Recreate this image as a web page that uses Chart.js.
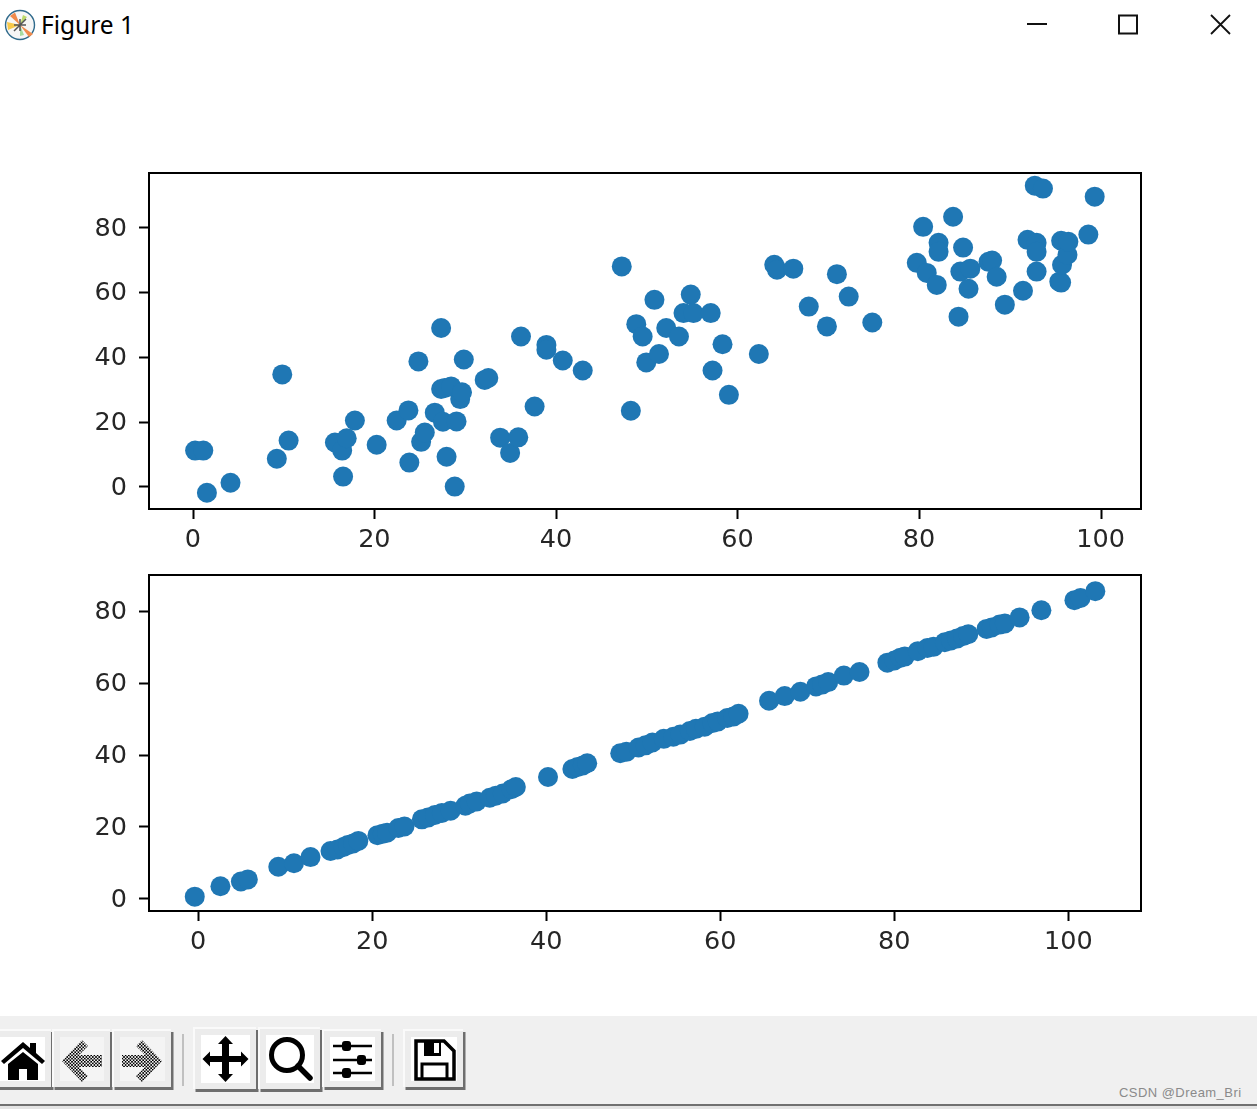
<!DOCTYPE html>
<html>
<head>
<meta charset="utf-8">
<title>Figure 1</title>
<script src="https://cdn.jsdelivr.net/npm/chart.js@4"></script>
<style>
html,body{margin:0;padding:0;background:#fff;width:1257px;height:1109px;overflow:hidden;position:relative}
canvas.plot{position:absolute;display:block}
#title{position:absolute;left:41px;top:7px;font:24.5px "Noto Sans",sans-serif;color:#000;line-height:36px}
#bar{position:absolute;left:0;top:1016px;width:1257px;height:89px;background:#f0f0f0}
#line{position:absolute;left:0;top:1104px;width:1257px;height:2px;background:#707070}
#under{position:absolute;left:0;top:1106px;width:1257px;height:3px;background:#e4e4e4}
.btn{position:absolute;box-sizing:border-box;background:#fff;border:6px solid #ececec;box-shadow:1.5px 2px 0 1px #6e6e6e,-1px -1px 0 1px #fafafa}
.btn svg{position:absolute;left:0;top:0;width:100%;height:100%;overflow:visible}
.sep{position:absolute;top:1034px;height:52px;width:2px;background:#c0c0c0}
#wm{position:absolute;left:1119px;top:1085px;font:13px "Liberation Sans",sans-serif;color:#8a8a8a;letter-spacing:.45px}
</style>
</head>
<body>
<svg style="position:absolute;left:3px;top:8px" width="34" height="34" viewBox="0 0 34 34">
  <circle cx="17" cy="17" r="14.5" fill="#f6f6f6" stroke="#2f6a8c" stroke-width="1.4"/>
  <path d="M17 17 L7 8 L12 4.5 Z" fill="#f08a4b"/>
  <path d="M17 17 L4 14 L5 22 Z" fill="#f7c94b"/>
  <path d="M17 17 L26 29 L30 26 Z" fill="#f08a4b"/>
  <path d="M17 17 L20 7 L24 9 Z" fill="#bcd96a"/>
  <path d="M17 17 L17 28 L21 27 Z" fill="#a6dba0"/>
  <path d="M11 23 L23 11 M17 11 L17 23 M11 17 L23 17" stroke="#555" stroke-width="1.5"/>
</svg>
<div id="title">Figure 1</div>
<svg style="position:absolute;left:1020px;top:8px" width="220" height="34" viewBox="0 0 220 34">
  <path d="M7 16 H27" stroke="#111" stroke-width="2"/>
  <rect x="99" y="7.5" width="18" height="18" fill="none" stroke="#111" stroke-width="2"/>
  <path d="M191 7 L210 26 M210 7 L191 26" stroke="#111" stroke-width="1.8"/>
</svg>

<canvas id="top" class="plot" width="1140" height="410" style="left:40px;top:160px"></canvas>
<canvas id="bottom" class="plot" width="1140" height="410" style="left:40px;top:562px"></canvas>

<div id="bar"></div><div id="line"></div><div id="under"></div>

<div class="btn" style="left:-6px;top:1031px;width:57px;height:56px"><svg viewBox="0 0 45 44">
  <path d="M1 24 L23 5 L30 11 V6 H36 V16 L45 24 L42 27 L23 11 L4 27 Z" fill="#000"/>
  <path d="M8 27 L23 15 L38 27 V43 H27 V32 H19 V43 H8 Z" fill="#000"/></svg></div>
<div class="btn" style="left:54px;top:1031px;width:56px;height:56px;background:#f4f4f4"><svg viewBox="0 0 44 44">
  <defs><pattern id="chk" width="3.2" height="3.2" patternUnits="userSpaceOnUse"><rect width="1.6" height="1.6" fill="#000"/><rect x="1.6" y="1.6" width="1.6" height="1.6" fill="#000"/></pattern></defs>
  <path d="M2 24 L22 3 L28 9 L19 18 H42 V30 H19 L28 39 L22 45 Z" fill="url(#chk)"/></svg></div>
<div class="btn" style="left:114px;top:1031px;width:57px;height:56px;background:#f4f4f4"><svg viewBox="0 0 45 44">
  <path d="M42 24 L22 3 L16 9 L25 18 H2 V30 H25 L16 39 L22 45 Z" fill="url(#chk)"/></svg></div>
<div class="sep" style="left:182px"></div>
<div class="btn" style="left:195px;top:1029px;width:61px;height:60px"><svg viewBox="0 0 49 48">
  <path d="M24.5 1 L32 9 H28 V21 H40 V16.5 L47.5 24 L40 31.5 V27 H28 V39 H32 L24.5 47 L17 39 H21 V27 H9 V31.5 L1.5 24 L9 16.5 V21 H21 V9 H17 Z" fill="#000"/></svg></div>
<div class="btn" style="left:260px;top:1029px;width:60px;height:60px"><svg viewBox="0 0 48 48">
  <circle cx="21" cy="20" r="15.5" fill="none" stroke="#000" stroke-width="5"/>
  <path d="M32 31 L44 43" stroke="#000" stroke-width="5.5" stroke-linecap="round"/></svg></div>
<div class="btn" style="left:324px;top:1031px;width:57px;height:56px"><svg viewBox="0 0 45 44">
  <path d="M3 9 H42 M3 23 H42 M3 36 H42" stroke="#000" stroke-width="2.5"/>
  <rect x="12" y="4" width="9" height="10" rx="3" fill="#000"/>
  <rect x="27" y="18" width="9" height="10" rx="3" fill="#000"/>
  <rect x="12" y="31" width="9" height="10" rx="3" fill="#000"/></svg></div>
<div class="sep" style="left:392px"></div>
<div class="btn" style="left:405px;top:1031px;width:58px;height:56px"><svg viewBox="0 0 46 44">
  <path d="M5 4 H33 L43 14 V42 H5 Z" fill="none" stroke="#000" stroke-width="3.5"/>
  <path d="M13 4 H30 V19 H13 Z" fill="#000"/><rect x="23" y="6" width="5" height="10" fill="#fff"/>
  <path d="M11 42 V27 H36 V42" fill="none" stroke="#000" stroke-width="3"/></svg></div>
<div id="wm">CSDN @Dream_Bri</div>

<script>
// Upper panel: scattered values
const topX = [0.2,1.1,1.5,4.1,9.2,9.8,10.5,15.6,16.4,16.9,16.5,17.8,20.2,22.4,23.7,23.8,24.8,25.1,25.5,26.6,27.3,27.3,27.7,27.5,27.9,28.4,28.8,29,29.4,29.6,29.8,32.1,32.5,33.8,34.9,35.8,36.1,37.6,38.9,38.9,40.7,42.9,47.2,48.2,48.8,49.5,49.9,50.8,51.3,52.1,53.5,54,54.8,55.1,57,57.2,58.3,59,62.3,64,64.3,66.1,67.8,69.8,70.9,72.2,74.8,79.7,80.4,80.8,81.9,82.1,82.1,83.7,84.3,84.5,84.8,85.4,85.6,87.6,88,88.5,89.4,91.4,91.9,92.7,92.9,92.9,92.9,93.6,95.4,95.6,95.7,95.6,96.3,96.4,98.6,99.3];
const topY = [11.2,11.2,-1.8,1.3,8.7,34.7,14.3,13.7,11.2,15,3.2,20.5,13,20.5,23.6,7.5,38.7,13.9,16.8,22.9,49,30.2,30.5,20.1,9.3,31,0.1,20.2,27.1,29.2,39.3,33,33.6,15.2,10.5,15.3,46.4,24.8,43.8,42.3,39,35.9,68,23.5,50.2,46.4,38.4,57.7,41,49,46.4,53.6,59.3,53.6,53.6,35.9,44,28.4,41,68.5,67,67.3,55.6,49.5,65.6,58.7,50.7,69.1,80.2,66,62.3,75.3,72.5,83.3,52.5,66.4,73.8,61.1,67.3,69.4,69.8,64.8,56.2,60.5,76.2,92.9,66.4,75.3,72.5,92,63.3,63,68.5,75.9,71.6,75.6,77.8,89.5];
// Lower panel: values along a straight run
const bottomX = [-0.45,2.5,4.85,5.65,9.15,10.95,12.85,15.15,15.95,16.65,17.15,17.75,18.35,20.55,21.15,21.65,22.95,23.65,25.65,26.35,27.15,27.95,28.95,30.65,31.15,31.95,33.45,34.15,34.95,35.95,36.45,40.15,42.95,43.55,44.15,44.65,48.45,49.15,50.55,51.35,52.15,53.45,54.55,55.35,56.45,57.15,58.15,59.05,59.65,60.75,61.45,62.05,65.55,67.35,69.15,70.95,71.65,72.35,74.15,75.95,79.15,79.95,80.65,81.15,82.65,83.75,84.45,85.75,86.45,87.15,87.85,88.45,90.55,91.15,92.05,92.65,94.35,96.85,100.65,101.35,103.05];
const bottomY = [0.6,3.5,4.8,5.4,8.9,9.9,11.6,13.3,13.7,14.4,15,15.4,16.1,17.7,18.1,18.4,19.7,20.1,22.1,22.6,23.3,23.9,24.5,25.9,26.5,27.1,28.1,28.7,29.3,30.5,31.1,33.9,36.1,36.7,37.1,37.7,40.5,40.9,42.1,42.7,43.5,44.5,45.1,45.7,46.7,47.3,47.9,48.9,49.3,50.3,50.7,51.5,55.1,56.4,57.6,59.1,59.6,60.3,62.1,63.1,65.7,66.3,67.1,67.4,68.9,69.8,70.1,71.4,71.9,72.4,73.1,73.6,75.1,75.5,76.3,76.6,78.3,80.3,83.1,83.7,85.6];
// Tick labels
const xTickValues = [0,20,40,60,80,100];
const yTickValues = [0,20,40,60,80];

const AXIS = '#000', TEXT = '#262626', MARK = '#1f77b4';
const frame = {id:'frame', afterDatasetsDraw(c){
  const a=c.chartArea, g=c.ctx; g.save(); g.strokeStyle=AXIS; g.lineWidth=2;
  g.strokeRect(a.left,a.top,a.right-a.left,a.bottom-a.top); g.restore();
}};
function axis(min,max,values,isX,size){
  return {
    type:'linear', min, max, position:isX?'bottom':'left',
    afterBuildTicks(s){ s.ticks = values.map(v=>({value:v})); },
    afterFit(s){
      if(isX) s.height=size; else s.width=size;
      s.paddingTop=0; s.paddingBottom=0; s.paddingLeft=0; s.paddingRight=0;
    },
    border:{display:true,color:AXIS,width:2},
    grid:{display:true,drawOnChartArea:false,drawTicks:true,tickLength:10,tickWidth:2,color:AXIS,tickColor:AXIS},
    ticks:{autoSkip:false,maxRotation:0,minRotation:0,padding:isX?6:12,labelOffset:isX?-0.5:1.5,color:TEXT,
      font:{family:'"DejaVu Sans"',size:25.5},callback:v=>String(v)}
  };
}
function panel(id,xs,ys,xr,yr){
  new Chart(document.getElementById(id),{
    type:'scatter',
    data:{datasets:[{data:xs.map((x,i)=>({x,y:ys[i]})),backgroundColor:MARK,borderWidth:0,pointRadius:10,pointHoverRadius:10}]},
    options:{responsive:false,animation:false,devicePixelRatio:1,
      layout:{autoPadding:false,padding:{left:0,right:39,top:13,bottom:0}},
      plugins:{legend:{display:false},tooltip:{enabled:false},title:{display:false}},
      scales:{x:axis(xr[0],xr[1],xTickValues,true,61),y:axis(yr[0],yr[1],yTickValues,false,109)}
    },
    plugins:[frame]
  });
}
panel('top',topX,topY,[-4.88,104.4],[-6.8,96.8]);
panel('bottom',bottomX,bottomY,[-5.71,108.3],[-3.4,90.1]);
</script>
</body>
</html>
